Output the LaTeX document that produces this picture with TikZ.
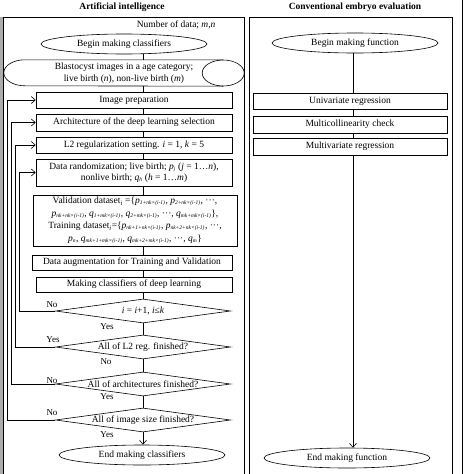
\documentclass[tikz,border=0pt]{standalone}
\usepackage{fontspec}
\setmainfont{Liberation Serif}
\usetikzlibrary{shapes.geometric,arrows.meta}
\newcommand{\vi}[1]{\textit{#1}}
\newcommand{\pedice}[1]{\textsubscript{\fontsize{5.5}{6}\selectfont\itshape #1}}

\begin{document}
\begin{tikzpicture}[x=1pt,y=-1pt,
    font=\fontsize{9.5}{11.5}\selectfont,
    blocco/.style={rectangle,draw,line width=0.6pt,minimum width=196pt,
                   minimum height=16pt,inner sep=1pt},
    ellisse/.style={ellipse,draw,line width=0.6pt,minimum width=166pt,
                    minimum height=20pt,inner sep=0pt},
    rombo/.style={diamond,draw,line width=0.6pt,minimum width=175pt,
                  minimum height=24pt,inner sep=0pt},
    arco/.style={line width=0.6pt},
    freccia/.style={line width=0.6pt,-{Straight Barb[length=4pt,width=7pt]}},
    titolo/.style={font=\fontsize{9.5}{11}\selectfont\bfseries},
    etich/.style={font=\fontsize{9}{10}\selectfont}]

  \useasboundingbox (0,0) rectangle (474,474);

  % --- cornici dei due pannelli ---
  \fill[gray!65] (0,17) rectangle (3,474);
  \draw[arco] (3,474) -- (3,17) -- (244,17) -- (244,474);
  \draw[arco] (249,474) -- (249,17) -- (452,17) -- (452,474);
  \draw[arco] (462,0) -- (462,474);

  % --- titoli ---
  \node[titolo] (tit1) at (122,7) {Artificial intelligence};
  \node[titolo] (tit2) at (355,7) {Conventional embryo evaluation};

  % --- pannello sinistro ---
  \node[anchor=east] (ndati) at (219,25) {Number of data; \vi{m},\vi{n}};
  \node[ellisse] (inizio) at (124,44) {Begin making classifiers};
  \node[minimum width=198pt,minimum height=26pt,align=center,inner sep=1pt]
       (dati) at (124,73)
       {Blastocyst images in a age category;\\
        live birth (\vi{n}), non-live birth (\vi{m})};
  \draw[arco] (dati.north east) -- (dati.north west)
              arc[start angle=270,end angle=90,x radius=21,y radius=13]
              -- (dati.south east);
  \draw[arco] (dati.east) ellipse[x radius=21,y radius=13];
  \node[blocco] (prep) at (134,100) {Image preparation};
  \node[blocco,minimum height=17pt] (arch) at (134,122.5)
       {Architecture of the deep learning selection};
  \node[blocco] (l2) at (134,145) {L2 regularization setting. \vi{i} = 1, \vi{k} = 5};
  \node[blocco,minimum height=27pt,align=center] (rand) at (134,172.5)
       {Data randomization; live birth; \vi{p}\pedice{j} (\vi{j} = 1…\vi{n}),\\
        nonlive birth; \vi{q}\pedice{h} (\vi{h} = 1…\vi{m})};
  \node[blocco,minimum width=204pt,minimum height=51pt,align=center,
        font=\fontsize{9.5}{12.5}\selectfont] (valid) at (135,220.5)
       {Validation dataset\textsubscript{\vi{i}} =\{\vi{p}\pedice{1+nk×(i-1)}, \vi{p}\pedice{2+nk×(i-1)}, ···,\\
        \vi{p}\pedice{nk+nk×(i-1)}, \vi{q}\pedice{1+mk×(i-1)}, \vi{q}\pedice{2+mk×(i-1)}, ···, \vi{q}\pedice{mk+mk×(i-1)}\},\\
        Training dataset\textsubscript{\vi{i}}=\{\vi{p}\pedice{nk+1+nk×(i-1)}, \vi{p}\pedice{nk+2+nk×(i-1)}, ···,\\
        \vi{p}\pedice{n}, \vi{q}\pedice{mk+1+mk×(i-1)}, \vi{q}\pedice{mk+2+mk×(i-1)}, ···, \vi{q}\pedice{m}\}};
  \node[blocco,minimum width=200pt,minimum height=15pt] (aug) at (132,262.5)
       {Data augmentation for Training and Validation};
  \node[blocco,minimum height=15pt] (crea) at (134,284.5)
       {Making classifiers of deep learning};

  \node[rombo,label=center:{\vi{i} = \vi{i}+1, \vi{i}≤\vi{k}}] (d1) at (143,311) {};
  \node[rombo,label=center:{All of L2 reg. finished?}] (d2) at (143,347) {};
  \node[rombo,label=center:{All of architectures finished?}] (d3) at (143,384) {};
  \node[rombo,label=center:{All of image size finished?}] (d4) at (143,420) {};
  \node[ellisse] (fine) at (142,455) {End making classifiers};

  % --- linea principale ---
  \coordinate (sx) at (143,0);
  \foreach \a/\b in {inizio/dati,dati/prep,prep/arch,arch/l2,l2/rand,rand/valid,
                     valid/aug,aug/crea,crea/d1,d1/d2,d2/d3,d3/d4}{
    \draw[arco] (\a.south -| sx) -- (\b.north -| sx);
  }
  \draw[freccia] (d4.south) -- (fine.north -| sx);

  % --- cicli di ritorno ---
  \coordinate (r1) at (19,0);
  \coordinate (r2) at (15,0);
  \coordinate (r3) at (11,0);
  \coordinate (r4) at (7,0);
  \draw[freccia] (d1.west) -- (d1.west -| r1) |- (rand.west);
  \draw[freccia] (d2.west) -- (d2.west -| r2) |- (l2.west);
  \draw[freccia] (d3.west) -- (d3.west -| r3) |- (arch.west);
  \draw[freccia] (d4.west) -- (d4.west -| r4) |- (prep.west);

  \node[etich] (no1) at (52,305) {No};
  \node[etich] (si1) at (107,327) {Yes};
  \node[etich] (si2) at (53,340) {Yes};
  \node[etich] (no2) at (106,362) {No};
  \node[etich] (no3) at (52,381) {No};
  \node[etich] (si3) at (107,397) {Yes};
  \node[etich] (no4) at (52,413) {No};
  \node[etich] (si4) at (107,435) {Yes};

  % --- pannello destro ---
  \coordinate (dx) at (353,0);
  \node[ellisse] (inizio2) at (355,43) {Begin making function};
  \node[blocco,minimum width=194pt] (univ) at (350,101) {Univariate regression};
  \node[blocco,minimum width=194pt,minimum height=17pt] (multic) at (350,124.5)
       {Multicollinearity check};
  \node[blocco,minimum width=194pt,minimum height=17pt] (multiv) at (350,146.5)
       {Multivariate regression};
  \node[ellisse] (fine2) at (347,458) {End making function};

  \draw[arco] (inizio2.south -| dx) -- (univ.north -| dx);
  \draw[arco] (univ.south -| dx) -- (multic.north -| dx);
  \draw[arco] (multic.south -| dx) -- (multiv.north -| dx);
  \draw[freccia] (multiv.south -| dx) -- (fine2.north -| dx);

\end{tikzpicture}
\end{document}
